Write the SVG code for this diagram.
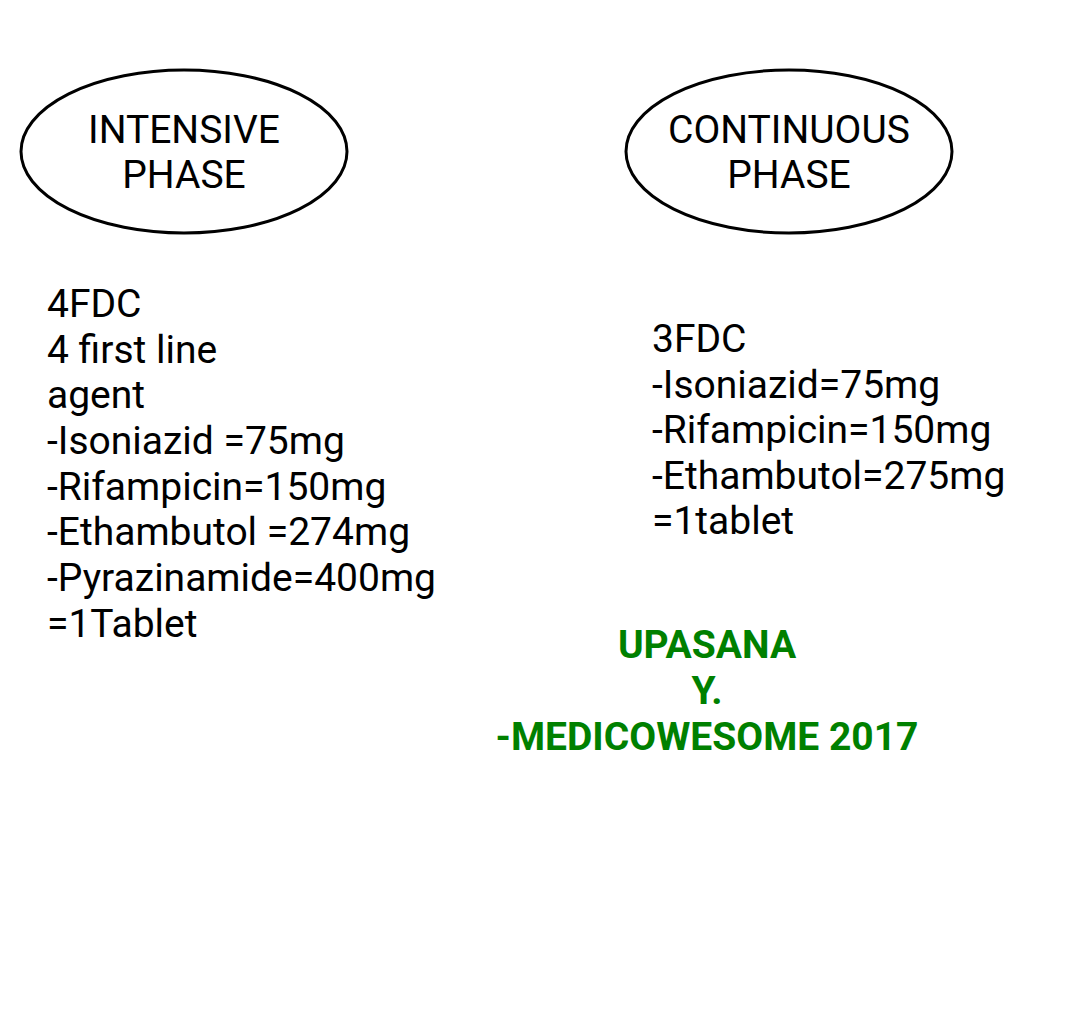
<svg xmlns="http://www.w3.org/2000/svg" width="1080" height="1024" viewBox="0 0 1080 1024">
<style>
.e{fill:#fff;stroke:#000;stroke-width:3}
.t{font-family:Roboto,"Noto Sans",sans-serif;font-size:39px;fill:#000}
.c{text-anchor:middle}
.g{font-family:Roboto,"Noto Sans",sans-serif;font-size:39px;font-weight:bold;fill:#008000;text-anchor:middle}
</style>
<rect width="1080" height="1024" fill="#fff"/>
<g id="connectors"></g>
<g id="intensive">
<ellipse class="e" cx="184" cy="151.5" rx="163" ry="81.5"/>
<text class="t c" x="184" y="143">INTENSIVE</text>
<text class="t c" x="184" y="188">PHASE</text>
</g>
<g id="continuous">
<ellipse class="e" cx="789" cy="151.5" rx="163" ry="81.5"/>
<text class="t c" x="789" y="143">CONTINUOUS</text>
<text class="t c" x="789" y="188">PHASE</text>
</g>
<g id="intensive-text">
<text class="t" x="47" y="317">4FDC</text>
<text class="t" x="47" y="362.5">4 first line</text>
<text class="t" x="47" y="408">agent</text>
<text class="t" x="47" y="454">-Isoniazid =75mg</text>
<text class="t" x="47" y="499.5">-Rifampicin=150mg</text>
<text class="t" x="47" y="545">-Ethambutol =274mg</text>
<text class="t" x="47" y="591">-Pyrazinamide=400mg</text>
<text class="t" x="47" y="636.5">=1Tablet</text>
</g>
<g id="continuous-text">
<text class="t" x="652" y="352">3FDC</text>
<text class="t" x="652" y="397.5">-Isoniazid=75mg</text>
<text class="t" x="652" y="443">-Rifampicin=150mg</text>
<text class="t" x="652" y="488.5">-Ethambutol=275mg</text>
<text class="t" x="652" y="534">=1tablet</text>
</g>
<g id="signature">
<text class="g" x="707" y="658">UPASANA</text>
<text class="g" x="707" y="704">Y.</text>
<text class="g" x="707" y="750">-MEDICOWESOME 2017</text>
</g>
</svg>
